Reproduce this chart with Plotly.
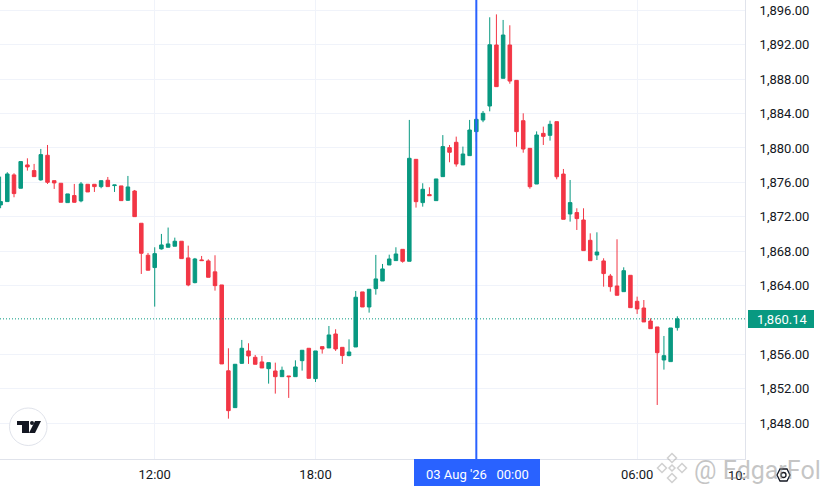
import pandas as pd
import plotly.graph_objects as go

W, H = 829, 494
PLOT_W, PLOT_H = 745, 459

# 15 minute candles
times = pd.date_range("2026-08-02 06:15", periods=102, freq="15min")

opens = [1873.38, 1873.77, 1876.87, 1875.32, 1878.03, 1877.37, 1876.29, 1879.15, 1876.2, 1875.9,
         1873.65, 1874.47, 1873.85, 1875.78, 1875.78, 1875.51, 1876.25, 1875.63, 1875.59, 1873.92,
         1875.0, 1871.25, 1867.53, 1866.1, 1868.27, 1868.46, 1868.58, 1869.16, 1867.22, 1864.35,
         1866.99, 1866.87, 1865.6, 1864.08, 1854.1, 1849.82, 1854.97, 1856.41, 1855.67, 1855.13,
         1854.35, 1854.08, 1853.42, 1853.5, 1853.42, 1855.28, 1856.72, 1853.19, 1856.91, 1856.76,
         1858.38, 1856.83, 1855.87, 1856.87, 1863.27, 1861.52, 1863.65, 1864.54, 1866.4, 1866.91,
         1868.22, 1866.83, 1878.68, 1873.65, 1874.58, 1873.88, 1876.67, 1880.04, 1880.66, 1878.03,
         1879.11, 1881.9, 1883.25, 1884.88, 1891.97, 1888.1, 1891.97, 1887.86, 1883.17, 1879.96,
         1875.81, 1881.7, 1881.47, 1883.06, 1876.97, 1872.33, 1872.49, 1871.63, 1869.27, 1867.56,
         1866.87, 1865.12, 1863.96, 1863.3, 1865.2, 1862.18, 1861.4, 1859.89, 1859.2, 1855.36,
         1855.17, 1859.12]
highs = [1876.67, 1877.18, 1877.06, 1878.42, 1878.8, 1878.15, 1879.89, 1880.35, 1876.2, 1875.9,
         1874.66, 1875.82, 1876.05, 1875.78, 1875.78, 1876.2, 1876.63, 1875.7, 1875.59, 1876.75,
         1875.12, 1871.25, 1867.8, 1868.46, 1870.01, 1870.75, 1869.58, 1869.16, 1868.65, 1867.22,
         1867.45, 1867.06, 1867.53, 1864.08, 1856.72, 1854.86, 1857.69, 1857.3, 1855.94, 1855.83,
         1855.05, 1855.05, 1854.59, 1853.5, 1855.32, 1856.49, 1856.72, 1856.41, 1856.91, 1859.31,
         1858.93, 1856.83, 1857.76, 1863.38, 1863.27, 1863.58, 1867.57, 1866.52, 1867.6, 1868.46,
         1868.22, 1883.26, 1878.68, 1875.9, 1875.43, 1876.4, 1881.5, 1880.35, 1881.32, 1880.16,
         1883.26, 1883.33, 1884.3, 1895.19, 1895.53, 1894.88, 1894.26, 1887.86, 1884.03, 1879.96,
         1881.93, 1882.48, 1883.17, 1883.06, 1877.56, 1876.28, 1872.99, 1872.99, 1870.08, 1870.2,
         1867.18, 1865.36, 1869.39, 1866.13, 1865.2, 1862.72, 1862.33, 1860.2, 1859.2, 1858.15,
         1859.08, 1860.44]
lows = [1873.0, 1873.77, 1874.27, 1875.32, 1877.37, 1876.67, 1876.2, 1875.82, 1875.24, 1873.69,
        1873.65, 1873.65, 1873.69, 1874.89, 1874.89, 1875.32, 1875.51, 1874.89, 1873.88, 1873.85,
        1872.02, 1865.36, 1865.79, 1861.56, 1868.19, 1868.46, 1868.58, 1867.14, 1863.93, 1864.27,
        1866.91, 1864.97, 1863.42, 1854.9, 1848.54, 1849.82, 1854.9, 1854.9, 1854.86, 1854.43,
        1852.61, 1851.45, 1853.42, 1850.95, 1853.42, 1854.12, 1853.23, 1852.8, 1856.1, 1856.76,
        1856.41, 1854.9, 1855.79, 1856.87, 1861.52, 1860.86, 1862.95, 1864.54, 1866.4, 1866.91,
        1866.67, 1866.83, 1873.07, 1873.18, 1874.46, 1873.88, 1876.67, 1878.34, 1877.83, 1878.03,
        1879.11, 1880.74, 1883.0, 1884.26, 1887.13, 1888.1, 1887.47, 1880.15, 1879.45, 1875.27,
        1875.81, 1880.35, 1880.85, 1876.36, 1871.71, 1871.44, 1870.47, 1868.07, 1866.9, 1866.98,
        1863.88, 1863.3, 1862.88, 1863.3, 1861.44, 1860.71, 1859.78, 1859.0, 1850.13, 1854.24,
        1855.17, 1858.77]
closes = [1873.77, 1876.98, 1874.7, 1878.42, 1877.8, 1876.67, 1879.23, 1876.01, 1875.94, 1873.69,
          1874.66, 1873.69, 1875.82, 1874.89, 1875.51, 1876.2, 1875.51, 1875.7, 1873.88, 1875.47,
          1872.02, 1867.76, 1865.79, 1867.72, 1868.73, 1868.85, 1869.16, 1867.14, 1864.08, 1867.1,
          1866.91, 1864.97, 1864.0, 1854.9, 1849.47, 1854.86, 1856.72, 1855.83, 1854.86, 1854.43,
          1855.05, 1853.42, 1854.16, 1853.42, 1854.55, 1856.49, 1853.23, 1856.41, 1856.64, 1858.27,
          1856.64, 1855.87, 1856.29, 1862.65, 1861.52, 1863.58, 1864.78, 1865.94, 1867.1, 1867.68,
          1866.83, 1878.8, 1873.76, 1875.2, 1874.46, 1876.4, 1880.16, 1879.5, 1878.14, 1879.3,
          1882.09, 1883.33, 1884.03, 1892.0, 1887.13, 1893.13, 1887.78, 1881.9, 1879.88, 1875.5,
          1881.51, 1881.35, 1882.75, 1876.66, 1871.71, 1873.65, 1871.79, 1868.07, 1866.9, 1867.91,
          1865.4, 1863.88, 1862.88, 1865.74, 1861.44, 1861.29, 1859.78, 1859.0, 1856.21, 1855.86,
          1859.08, 1860.14]

# 1,860.00 is covered by the last price box in the reference
price_ticks = [1848, 1852, 1856, 1864, 1868, 1872, 1876, 1880, 1884, 1888, 1892, 1896]
time_ticks = ["2026-08-02 12:00", "2026-08-02 18:00", "2026-08-03 00:00", "2026-08-03 06:00"]
time_labels = ["12:00", "18:00", "", "06:00"]
last_price = 1860.14
cross_time = "2026-08-03 00:00"

GREEN = "#089981"
RED = "#F23645"
BLUE = "#2962FF"
FONT = "Roboto"


# pixel position on the page to paper coordinates, for the furniture around the chart
def px(x):
    return x / PLOT_W


def py(y):
    return 1 - y / PLOT_H


def path(points, close=True):
    d = "M" + " L".join(f"{px(x):.5f},{py(y):.5f}" for x, y in points)
    return d + (" Z" if close else "")


fig = go.Figure(go.Candlestick(
    x=times, open=opens, high=highs, low=lows, close=closes,
    increasing=dict(line=dict(color=GREEN, width=1), fillcolor=GREEN),
    decreasing=dict(line=dict(color=RED, width=1), fillcolor=RED),
    whiskerwidth=0, showlegend=False))

shapes = [
    # last price line and crosshair
    dict(type="line", xref="paper", x0=0, x1=1, yref="y", y0=last_price, y1=last_price,
         line=dict(color=GREEN, width=1, dash="1px,2px")),
    dict(type="line", xref="x", x0=cross_time, x1=cross_time, yref="paper", y0=0, y1=1,
         line=dict(color=BLUE, width=2)),
    # crosshair date box
    dict(type="rect", xref="paper", yref="paper", x0=px(414), x1=px(540), y0=py(459), y1=py(486),
         fillcolor=BLUE, line_width=0),
    # price box
    dict(type="rect", xref="paper", yref="paper", x0=px(748), x1=px(814), y0=py(310), y1=py(328),
         fillcolor=GREEN, line_width=0),
    # tradingview badge
    dict(type="circle", xref="paper", yref="paper", x0=px(9.5), x1=px(47), y0=py(445.5), y1=py(408),
         fillcolor="white", line=dict(color="#E0E3EB", width=1)),
    dict(type="path", xref="paper", yref="paper", line_width=0, fillcolor="#131722",
         path=path([(17, 421), (29, 421), (29, 433), (22, 433), (22, 425), (17, 425)])),
    dict(type="circle", xref="paper", yref="paper", x0=px(30), x1=px(34), y0=py(425), y1=py(421),
         fillcolor="#131722", line_width=0),
    dict(type="path", xref="paper", yref="paper", line_width=0, fillcolor="#131722",
         path=path([(35, 421), (41, 421), (35, 433), (29, 433)])),
    # settings hexagon
    dict(type="path", xref="paper", yref="paper", fillcolor="white",
         line=dict(color="#131722", width=1.3),
         path=path([(777, 475), (780, 469), (787, 469), (790, 475), (787, 481), (780, 481)])),
    dict(type="circle", xref="paper", yref="paper", x0=px(781), x1=px(786), y0=py(477.5), y1=py(472.5),
         line=dict(color="#131722", width=1.3)),
]

# watermark diamonds
for cx, cy, r in [(672, 458, 4.5), (662, 468, 4.5), (682, 468, 4.5), (672, 478, 4.5), (672, 468, 3)]:
    shapes.append(dict(type="path", xref="paper", yref="paper", fillcolor="rgba(255,255,255,0.5)",
                       line=dict(color="rgba(170,170,170,0.55)", width=1.5),
                       path=path([(cx, cy - r), (cx + r, cy), (cx, cy + r), (cx - r, cy)])))

annotations = [
    dict(text=f"{last_price:,.2f}", xref="paper", yref="paper", x=px(782), y=py(319), showarrow=False,
         xanchor="center", yanchor="middle", font=dict(family=FONT, size=13, color="white")),
    dict(text="03 Aug '26&nbsp;&nbsp;&nbsp;00:00", xref="paper", yref="paper", x=px(477), y=py(474),
         showarrow=False, xanchor="center", yanchor="middle", font=dict(family=FONT, size=13, color="white")),
    dict(text="10:", xref="paper", yref="paper", x=px(737), y=py(475), showarrow=False,
         xanchor="center", yanchor="middle", font=dict(family=FONT, size=13, color="#131722")),
    dict(text="@ EdgarFol", xref="paper", yref="paper", x=px(692), y=py(470), xanchor="left",
         yanchor="middle", showarrow=False, font=dict(family=FONT, size=25, color="rgba(140,140,140,0.5)")),
]

fig.update_layout(
    width=W, height=H, autosize=False,
    margin=dict(l=0, r=W - PLOT_W, t=0, b=H - PLOT_H),
    paper_bgcolor="white", plot_bgcolor="white",
    font=dict(family=FONT, size=13, color="#131722"),
    shapes=shapes, annotations=annotations,
    boxgap=0.25, hovermode=False,
)
fig.update_xaxes(
    rangeslider_visible=False,
    range=["2026-08-02 06:13:39", "2026-08-03 10:01:30"],
    tickmode="array", tickvals=time_ticks, ticktext=time_labels,
    showgrid=True, gridcolor="#F0F3FA", gridwidth=1, zeroline=False,
    showline=True, linecolor="#E0E3EB", linewidth=1,
    ticks="outside", ticklen=3, tickcolor="rgba(0,0,0,0)",
)
fig.update_yaxes(
    side="right", range=[1843.85, 1897.2],
    tickmode="array", tickvals=price_ticks, tickformat=",.2f",
    showgrid=True, gridcolor="#F0F3FA", gridwidth=1, zeroline=False,
    showline=True, linecolor="#E0E3EB", linewidth=1,
    ticks="outside", ticklen=11, tickcolor="rgba(0,0,0,0)",
)

fig.write_html("out.html", config=dict(displayModeBar=False),
               post_script="document.body.style.margin='0';")
